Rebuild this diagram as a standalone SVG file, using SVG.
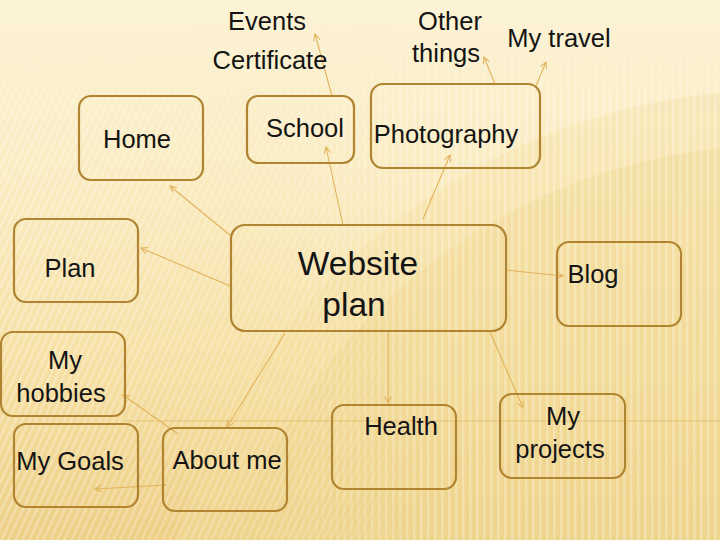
<svg xmlns="http://www.w3.org/2000/svg" width="720" height="540" viewBox="0 0 720 540">
<style>
.box{fill:none;stroke:#B08430;stroke-width:2.2}
.lbl{font-family:"Liberation Sans",Arial,sans-serif;font-size:25.5px;fill:#141414;text-anchor:middle}
.big{font-size:33.5px}
.con{stroke:#E2B25C;stroke-width:1.1;fill:none;marker-end:url(#arr)}
</style>
<defs>
<linearGradient id="bg" x1="0" y1="0" x2="0" y2="1">
<stop offset="0" stop-color="#FCF3D6"/>
<stop offset="0.35" stop-color="#FAEBBF"/>
<stop offset="0.7" stop-color="#F6DFA2"/>
<stop offset="1" stop-color="#EDCF86"/>
</linearGradient>
<pattern id="vs" width="7" height="20" patternUnits="userSpaceOnUse">
<rect x="0" y="0" width="2.5" height="20" fill="#FFFFFF"/>
</pattern>
<pattern id="ds" width="7" height="20" patternUnits="userSpaceOnUse" patternTransform="skewX(-25)">
<rect x="0" y="0" width="2.5" height="20" fill="#FFFFFF"/>
</pattern>
<linearGradient id="fadeL" x1="0" y1="0" x2="1" y2="0">
<stop offset="0" stop-color="#fff" stop-opacity="1"/>
<stop offset="0.45" stop-color="#fff" stop-opacity="0.6"/>
<stop offset="0.6" stop-color="#fff" stop-opacity="0"/>
</linearGradient>
<linearGradient id="fadeR" x1="0" y1="0" x2="1" y2="0">
<stop offset="0.35" stop-color="#fff" stop-opacity="0"/>
<stop offset="0.6" stop-color="#fff" stop-opacity="1"/>
</linearGradient>
<linearGradient id="fadeV" x1="0" y1="0" x2="0" y2="1">
<stop offset="0.03" stop-color="#fff" stop-opacity="0"/>
<stop offset="0.22" stop-color="#fff" stop-opacity="1"/>
</linearGradient>
<mask id="mL"><rect x="0" y="0" width="720" height="540" fill="url(#fadeL)"/></mask>
<mask id="mR"><rect x="0" y="0" width="720" height="540" fill="url(#fadeR)"/></mask>
<mask id="mV"><rect x="0" y="0" width="720" height="540" fill="url(#fadeV)"/></mask>
<marker id="arr" viewBox="0 0 10 10" refX="9" refY="5" markerWidth="8" markerHeight="8" markerUnits="userSpaceOnUse" orient="auto">
<path d="M1,1 L9,5 L1,9" fill="none" stroke="#E2B25C" stroke-width="1.3"/>
</marker>
</defs>
<g id="background">
<rect width="720" height="540" fill="url(#bg)"/>
<circle cx="780" cy="720" r="630" fill="#F4DC9C" opacity="0.35"/>
<circle cx="780" cy="720" r="575" fill="#EFD38A" opacity="0.35"/>
<g mask="url(#mV)">
<rect width="720" height="540" fill="url(#vs)" opacity="0.28" mask="url(#mR)"/>
<rect width="720" height="540" fill="url(#ds)" opacity="0.3" mask="url(#mL)"/>
</g>
<line x1="125" y1="421" x2="720" y2="421" stroke="#E7B65E" stroke-width="0.9" opacity="0.8"/>
</g>
<g id="connectors">
<line class="con" x1="231" y1="236" x2="170" y2="186"/>
<line class="con" x1="230" y1="286" x2="141" y2="248"/>
<line class="con" x1="343" y1="225" x2="326" y2="147"/>
<line class="con" x1="332" y1="96" x2="315" y2="34"/>
<line class="con" x1="423" y1="219" x2="450" y2="155"/>
<line class="con" x1="495" y1="84" x2="484" y2="57"/>
<line class="con" x1="536" y1="86" x2="546" y2="62"/>
<line class="con" x1="506" y1="270" x2="563" y2="276"/>
<line class="con" x1="388" y1="331" x2="388" y2="403"/>
<line class="con" x1="490" y1="332" x2="523" y2="408"/>
<line class="con" x1="285" y1="333" x2="227" y2="427"/>
<line class="con" x1="178" y1="434" x2="123" y2="395"/>
<line class="con" x1="167" y1="485" x2="95" y2="489"/>
</g>
<g id="events"><text class="lbl" x="267" y="30">Events</text></g>
<g id="certificate"><text class="lbl" x="270" y="69">Certificate</text></g>
<g id="other-things"><text class="lbl" x="450" y="30">Other</text><text class="lbl" x="446" y="62">things</text></g>
<g id="my-travel"><text class="lbl" x="559" y="47">My travel</text></g>
<g id="home"><rect class="box" x="79" y="96" width="124" height="84" rx="12"/><text class="lbl" x="137" y="148">Home</text></g>
<g id="school"><rect class="box" x="247" y="96" width="107" height="67" rx="11"/><text class="lbl" x="305" y="137">School</text></g>
<g id="photography"><rect class="box" x="371" y="84" width="169" height="84" rx="12"/><text class="lbl" x="446" y="143">Photography</text></g>
<g id="plan"><rect class="box" x="14" y="219" width="124" height="83" rx="12"/><text class="lbl" x="70" y="277">Plan</text></g>
<g id="website-plan"><rect class="box" x="231" y="225" width="275" height="106" rx="14"/><text class="lbl big" x="358" y="275">Website</text><text class="lbl big" x="354" y="316">plan</text></g>
<g id="blog"><rect class="box" x="557" y="242" width="124" height="84" rx="12"/><text class="lbl" x="593" y="283">Blog</text></g>
<g id="my-hobbies"><rect class="box" x="1" y="332" width="124" height="84" rx="12"/><text class="lbl" x="65" y="369">My</text><text class="lbl" x="61" y="402">hobbies</text></g>
<g id="my-goals"><rect class="box" x="14" y="424" width="124" height="83" rx="12"/><text class="lbl" x="70" y="470">My Goals</text></g>
<g id="about-me"><rect class="box" x="163" y="428" width="124" height="83" rx="12"/><text class="lbl" x="227" y="469">About me</text></g>
<g id="health"><rect class="box" x="332" y="405" width="124" height="84" rx="12"/><text class="lbl" x="401" y="435">Health</text></g>
<g id="my-projects"><rect class="box" x="500" y="394" width="125" height="84" rx="12"/><text class="lbl" x="563" y="425">My</text><text class="lbl" x="560" y="458">projects</text></g>
</svg>
